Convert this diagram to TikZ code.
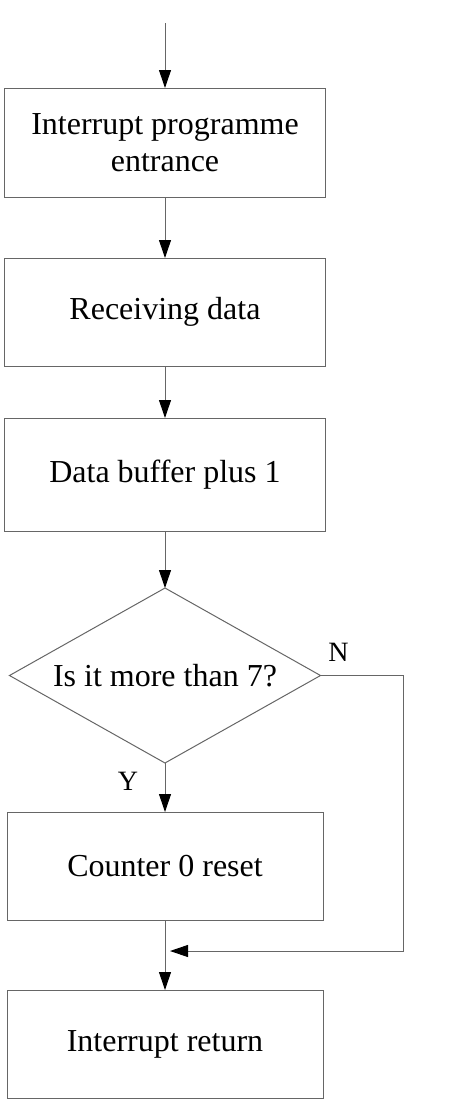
\documentclass[tikz,border=0pt]{standalone}
\usepackage{fontspec}
\setmainfont{Liberation Serif}
\usepackage{tikz}
\usetikzlibrary{positioning, arrows.meta, shapes.geometric}

\begin{document}
\begin{tikzpicture}[
    node distance=55pt,
    box/.style={rectangle, draw=black!60, line width=1pt, fill=white, font=\fontsize{32}{37}\selectfont, align=center, inner sep=0pt, outer sep=0pt, minimum width=321pt, minimum height=109pt},
    decision/.style={diamond, draw=black!60, line width=1pt, fill=white, font=\fontsize{32}{37}\selectfont, inner sep=0pt, outer sep=0pt, aspect=1.78, minimum width=311pt, minimum height=175pt},
    arrow/.style={-{Triangle[length=18pt, width=12pt, fill=black, color=black]}, line width=1pt, draw=black!60},
    line/.style={line width=1pt, draw=black!60},
    tag/.style={font=\fontsize{28}{32}\selectfont, inner sep=0pt}
]
    \useasboundingbox (0,0) rectangle (474pt,-1104pt);

    % Main column
    \node[box] (entry) at (165pt,-142.5pt) {Interrupt programme\\entrance};
    \coordinate[above=65pt of entry.north] (in);
    \node[box, minimum height=108pt, below=61pt of entry] (receive) {Receiving data};
    \node[box, minimum height=113pt, below=52pt of receive] (buffer) {Data buffer plus 1};
    \node[decision, below=57pt of buffer] (check) {Is it more than 7?};
    \node[box, minimum width=316pt, minimum height=108pt, below=49pt of check] (reset) {Counter 0 reset};
    \node[box, minimum width=316pt, minimum height=108pt, below=70pt of reset] (return) {Interrupt return};

    \draw[arrow] (in) -- (entry);
    \draw[arrow] (entry) -- (receive);
    \draw[arrow] (receive) -- (buffer);
    \draw[arrow] (buffer) -- (check);
    \draw[arrow] (check) -- (reset);
    \draw[arrow] (reset) -- (return);

    % Labels of the branch
    \node[tag] (yes) at ([xshift=-37pt, yshift=-18pt]check.south) {Y};
    \node[tag] (no) at ([xshift=18pt, yshift=23pt]check.east) {N};

    % Loop back on N
    \coordinate (join) at ([yshift=-31pt]reset.south);
    \coordinate (side) at ([xshift=83pt]check.east);
    \draw[arrow] (check.east) -- (side) |- ([xshift=5pt]join);

\end{tikzpicture}
\end{document}
